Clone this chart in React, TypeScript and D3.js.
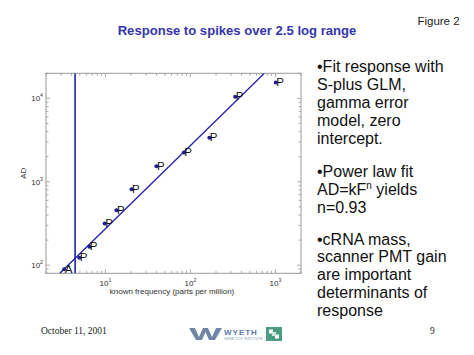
import React from 'react';
import * as d3 from 'd3';

// Data
const freq = [3.27, 4.92, 6.47, 9.8, 13.5, 20.3, 39.8, 83.7, 167, 336, 1010];
const adValues = [89.5, 123, 167, 316, 457, 817, 1540, 2250, 3370, 10470, 15560];
const calls = ['A', 'P', 'P', 'P', 'P', 'P', 'P', 'P', 'P', 'P', 'P'];
const fitX = [2.87, 741];
const fitY = [79, 20000];
const limitX = [4.4];
const xTicks = [10, 100, 1000];
const xTickExp = ['1', '2', '3'];
const yTicks = [100, 1000, 10000];
const yTickExp = ['2', '3', '4'];

const title = 'Response to spikes over 2.5 log range';
const para1 = ['\u2022Fit response with', 'S-plus GLM,', 'gamma error', 'model, zero', 'intercept.'];
const para3 = ['\u2022cRNA mass,', 'scanner PMT gain', 'are important', 'determinants of', 'response'];

const W = 474, H = 355;
const L = 46, R = 301, T = 73.3, B = 273.3;

function minorTicks(lo: number, hi: number) {
  const out: { v: number; major: boolean }[] = [];
  for (let e = Math.floor(Math.log10(lo)); e <= Math.ceil(Math.log10(hi)); e++) {
    for (let m = 1; m <= 9; m++) {
      const v = m * Math.pow(10, e);
      if (v >= lo && v <= hi) out.push({ v, major: m === 1 });
    }
  }
  return out;
}

export default function App() {
  const x = d3.scaleLog().domain([2, 2000]).range([L, R]);
  const y = d3.scaleLog().domain([80, 20000]).range([B, T]);
  const line = d3.line<number>().x((_, i) => x(fitX[i])).y((d) => y(d));
  const axisCol = '#9a9a9a';
  const xt = minorTicks(2, 2000);
  const yt = minorTicks(80, 20000);
  const font = 'Liberation Sans, Arial, Helvetica, sans-serif';

  return (
    <svg width={W} height={H} style={{ position: 'absolute', left: 0, top: 0, background: '#fff' }} fontFamily={font}>
      <rect x={0} y={0} width={W} height={H} fill="#fff" />
      <text x={237} y={34.5} textAnchor="middle" fontSize={13.1} fontWeight="bold" fill="#3535ad">{title}</text>
      <text x={438.5} y={24.5} textAnchor="middle" fontSize={11.5} fill="#222">Figure 2</text>

      <defs>
        <clipPath id="plotclip"><rect x={L} y={T} width={R - L} height={B - T} /></clipPath>
      </defs>

      {/* axes box */}
      <rect x={L} y={T} width={R - L} height={B - T} fill="none" stroke={axisCol} strokeWidth={1} />
      {xt.map((t, i) => (
        <g key={'xt' + i} stroke={axisCol} strokeWidth={0.8}>
          <line x1={x(t.v)} x2={x(t.v)} y1={B} y2={B - (t.major ? 4 : 2.5)} />
          <line x1={x(t.v)} x2={x(t.v)} y1={T} y2={T + (t.major ? 4 : 2.5)} />
        </g>
      ))}
      {yt.map((t, i) => (
        <g key={'yt' + i} stroke={axisCol} strokeWidth={0.8}>
          <line x1={L} x2={L + (t.major ? 4 : 2.5)} y1={y(t.v)} y2={y(t.v)} />
          <line x1={R} x2={R - (t.major ? 4 : 2.5)} y1={y(t.v)} y2={y(t.v)} />
        </g>
      ))}
      {xTicks.map((t, i) => (
        <text key={'xl' + i} x={x(t)} y={285.5} textAnchor="middle" fontSize={8} fill="#333">
          10<tspan fontSize={5.2} dy={-4}>{xTickExp[i]}</tspan>
        </text>
      ))}
      {yTicks.map((t, i) => (
        <text key={'yl' + i} x={43} y={y(t) + 3} textAnchor="end" fontSize={8} fill="#333">
          10<tspan fontSize={5.2} dy={-4}>{yTickExp[i]}</tspan>
        </text>
      ))}
      <text x={172} y={294} textAnchor="middle" fontSize={8} fill="#333">known frequency (parts per million)</text>
      <text transform={`translate(26,${(T + B) / 2}) rotate(-90)`} textAnchor="middle" fontSize={8} fill="#333">AD</text>

      <g clipPath="url(#plotclip)">
        {limitX.map((v, i) => (
          <line key={'lim' + i} x1={x(v)} x2={x(v)} y1={T} y2={B} stroke="#3838b0" strokeWidth={1.8} />
        ))}
        <path d={line(fitY) || ''} fill="none" stroke="#2424a8" strokeWidth={1.4} />
      </g>
      {freq.map((f, i) => (
        <g key={'pt' + i}>
          <circle cx={x(f)} cy={y(adValues[i])} r={2} fill="#1c1c9c" />
          <text x={x(f) + 0.5} y={y(adValues[i]) + 3.5} fontSize={11.5} fill="#111">{calls[i]}</text>
        </g>
      ))}

      {/* Right-hand text */}
      <g fontSize={16} fill="#111">
        {para1.map((s, i) => (
          <text key={'p1' + i} x={317} y={72.3 + i * 17.9}>{s}</text>
        ))}
        <text x={317} y={176.7}>{'\u2022Power law fit'}</text>
        <text x={317} y={194.6}>AD=kF<tspan fontSize={10} dy={-6}>n</tspan><tspan dy={6}> yields</tspan></text>
        <text x={317} y={212.5}>n=0.93</text>
        {para3.map((s, i) => (
          <text key={'p3' + i} x={317} y={244.5 + i * 17.9}>{s}</text>
        ))}
      </g>

      {/* footer */}
      <text x={41} y={334} fontFamily="Liberation Serif, Times New Roman, serif" fontSize={9.5} fill="#222">October 11, 2001</text>
      <text x={430} y={334} fontFamily="Liberation Serif, Times New Roman, serif" fontSize={9.5} fill="#222">9</text>

      {/* logo approximation */}
      <g>
        <path d="M189,328 L195,328 L199,337 L203,328 L208,328 L212,337 L216,328 L222,328 L215,340 L209,340 L205.5,332 L202,340 L196,340 Z" fill="#6f86a6" />
        <text x={224} y={334.5} fontSize={8} fontWeight="bold" fill="#5a78a8" letterSpacing={1}>WYETH</text>
        <text x={224} y={339.5} fontSize={3.2} fill="#7a8fae" letterSpacing={0.3}>GENETICS INSTITUTE</text>
        <rect x={266} y={327} width={16} height={14} fill="#4c9c82" />
        <rect x={269} y={329.5} width={4} height={4} fill="#fff" />
        <rect x={275} y={334.5} width={4} height={4} fill="#fff" />
        <rect x={272} y={332} width={4} height={4} fill="#cfe6dc" />
      </g>
    </svg>
  );
}
